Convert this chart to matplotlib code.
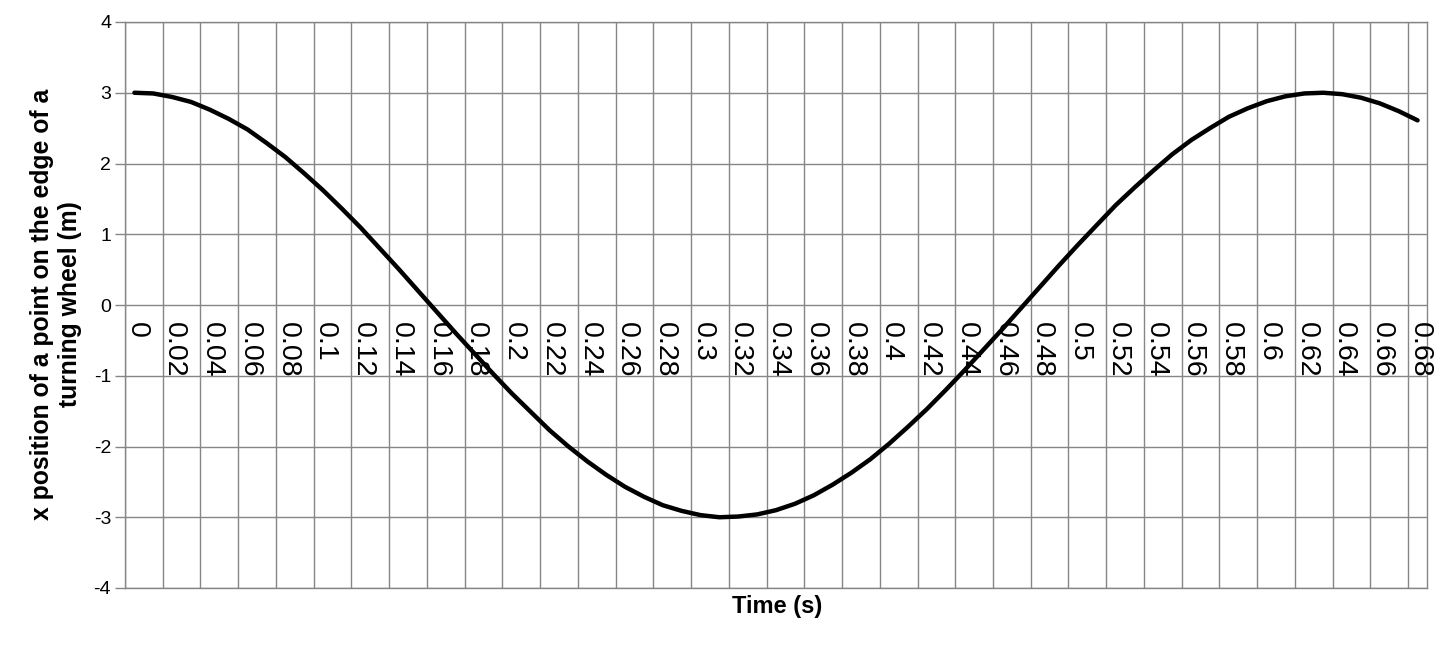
import matplotlib.pyplot as plt
import numpy as np

plt.rcParams['font.family'] = ['Liberation Sans', 'DejaVu Sans']

# time categories (s) and x position (m)
times = [0.00, 0.01, 0.02, 0.03, 0.04, 0.05, 0.06, 0.07, 0.08, 0.09,
         0.10, 0.11, 0.12, 0.13, 0.14, 0.15, 0.16, 0.17, 0.18, 0.19,
         0.20, 0.21, 0.22, 0.23, 0.24, 0.25, 0.26, 0.27, 0.28, 0.29,
         0.30, 0.31, 0.32, 0.33, 0.34, 0.35, 0.36, 0.37, 0.38, 0.39,
         0.40, 0.41, 0.42, 0.43, 0.44, 0.45, 0.46, 0.47, 0.48, 0.49,
         0.50, 0.51, 0.52, 0.53, 0.54, 0.55, 0.56, 0.57, 0.58, 0.59,
         0.60, 0.61, 0.62, 0.63, 0.64, 0.65, 0.66, 0.67, 0.68]
x_pos = [3.00, 2.99, 2.94, 2.87, 2.76, 2.63, 2.48, 2.29, 2.09, 1.86,
         1.62, 1.36, 1.09, 0.80, 0.51, 0.21, -0.09, -0.39, -0.68, -0.97,
         -1.25, -1.51, -1.77, -2.00, -2.21, -2.40, -2.57, -2.71, -2.83, -2.91,
         -2.97, -3.00, -2.99, -2.96, -2.90, -2.81, -2.69, -2.54, -2.37, -2.18,
         -1.96, -1.72, -1.47, -1.20, -0.92, -0.63, -0.34, -0.04, 0.26, 0.56,
         0.85, 1.13, 1.41, 1.66, 1.90, 2.13, 2.33, 2.50, 2.66, 2.78,
         2.88, 2.95, 2.99, 3.00, 2.98, 2.93, 2.85, 2.74, 2.61]
y_ticks = [-4, -3, -2, -1, 0, 1, 2, 3, 4]

grid_col = '#868686'

fig = plt.figure(figsize=(14.5, 6.46), dpi=100)
ax = fig.add_axes([125/1450, 1 - 588/646, 1302/1450, 566/646])

idx = np.arange(len(times))
ax.plot(idx, x_pos, color='black', lw=3.2, solid_capstyle='round', zorder=3)

ax.set_xlim(-0.5, len(times) - 0.5)
ax.set_ylim(-4, 4)

# category boundaries every second point carry the vertical grid
ax.set_xticks(np.arange(-0.5, len(times), 2))
ax.set_xticklabels([])
ax.tick_params(axis='x', length=0)
ax.set_yticks(y_ticks)
ax.set_yticklabels([str(v) for v in y_ticks], fontsize=14)
ax.tick_params(axis='y', length=7, width=1, color=grid_col, pad=3)
ax.grid(True, color=grid_col, lw=1)
for s in ax.spines.values():
    s.set_color(grid_col)
    s.set_linewidth(1)

for i in range(0, len(times), 2):
    ax.annotate(f'{times[i]:g}', xy=(i, 0), xytext=(1.5, -12),
                textcoords='offset points', rotation=-90,
                ha='center', va='top', fontsize=20.5)

fig.text(56/1450, 1 - 304/646,
         'x position of a point on the edge of a\nturning wheel (m)',
         rotation=90, ha='center', va='center', multialignment='center',
         fontsize=17.8, fontweight='bold', linespacing=1.2)
fig.text(777/1450, 1 - 607/646, 'Time (s)', ha='center', va='center',
         fontsize=17, fontweight='bold')

fig.savefig('out.png', dpi=100)
